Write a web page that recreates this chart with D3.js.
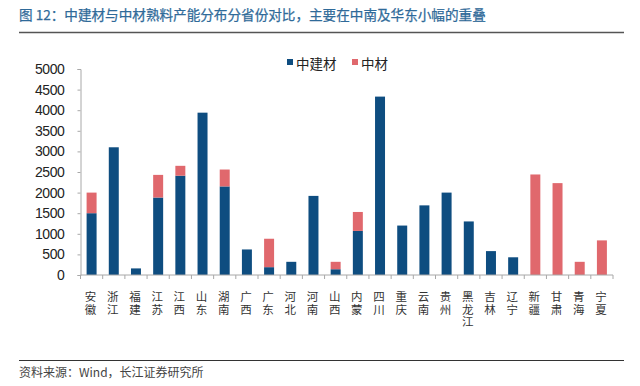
<!DOCTYPE html>
<html>
<head>
<meta charset="utf-8">
<script src="https://cdn.jsdelivr.net/npm/d3@7"></script>
<style>
  html, body { margin: 0; padding: 0; background: #fff; }
  svg { display: block; }
  .vlabel { writing-mode: vertical-rl; text-orientation: upright; }
</style>
</head>
<body>
<div id="chart"></div>
<script>
// Data
const provinces = ['安徽','浙江','福建','江苏','江西','山东','湖南','广西','广东','河北','河南','山西',
                   '内蒙','四川','重庆','云南','贵州','黑龙江','吉林','辽宁','新疆','甘肃','青海','宁夏'];
const cnbm  = [1500, 3100, 160, 1880, 2410, 3940, 2150, 620, 190, 320, 1920, 140,
               1070, 4330, 1200, 1690, 2000, 1300, 580, 430, 0, 0, 0, 0];
const sinoma = [500, 0, 0, 550, 240, 0, 410, 0, 690, 0, 0, 180,
                460, 0, 0, 0, 0, 0, 0, 0, 2440, 2230, 320, 840];
const seriesNames = ['中建材', '中材'];
const yTicks = [0, 500, 1000, 1500, 2000, 2500, 3000, 3500, 4000, 4500, 5000];

const width  = 640;
const height = 386;
const colors = ['#0e4d80', '#e0686d'];
const cjk = '"Noto Sans CJK SC", "Noto Sans", sans-serif';

const svg = d3.select('#chart')
  .append('svg')
    .attr('width', width)
    .attr('height', height);

svg.append('rect')
  .attr('width', width)
  .attr('height', height)
  .attr('fill', '#fff');

// Title + rule
svg.append('text')
  .attr('x', 19)
  .attr('y', 20)
  .attr('font-family', cjk)
  .attr('font-size', 13.6)
  .attr('fill', '#2f6a99')
  .attr('stroke', '#2f6a99')
  .attr('stroke-width', 0.25)
  .text('图 12：中建材与中材熟料产能分布分省份对比，主要在中南及华东小幅的重叠');

svg.append('line')
  .attr('x1', 19).attr('x2', 624)
  .attr('y1', 32.5).attr('y2', 32.5)
  .attr('stroke', '#555')
  .attr('stroke-width', 1.3);

// Scales
const x = d3.scaleBand()
  .domain(provinces)
  .range([80.5, 613])
  .paddingInner(0.55)
  .paddingOuter(0.275);

const y = d3.scaleLinear()
  .domain([0, 5000])
  .range([275, 69]);

// Stacked data
const rows = provinces.map((p, i) => ({ prov: p, '中建材': cnbm[i], '中材': sinoma[i] }));
const stacked = d3.stack().keys(seriesNames)(rows);

svg.append('g')
  .selectAll('g.series')
  .data(stacked)
  .join('g')
    .attr('class', 'series')
    .attr('fill', (d, i) => colors[i])
  .selectAll('rect')
  .data(d => d)
  .join('rect')
    .attr('x', d => x(d.data.prov))
    .attr('width', x.bandwidth())
    .attr('y', d => y(d[1]))
    .attr('height', d => y(d[0]) - y(d[1]));

// Y axis
const yAxis = svg.append('g')
  .attr('transform', 'translate(80.5,0)')
  .call(d3.axisLeft(y).tickValues(yTicks).tickSize(3).tickPadding(13).tickFormat(d3.format('d')));

yAxis.select('.domain').attr('stroke', '#a8a8a8');
yAxis.selectAll('.tick line').attr('stroke', '#a8a8a8');
yAxis.selectAll('.tick text')
  .attr('font-family', '"Liberation Sans", Arial, sans-serif')
  .attr('font-size', 14)
  .attr('letter-spacing', -0.4)
  .attr('fill', '#222');

// X axis: line with ticks at band edges
const step = x.step();
const x0 = x.range()[0];
const edges = d3.range(provinces.length + 1).map(i => x0 + i * step);

svg.append('line')
  .attr('x1', x.range()[0]).attr('x2', x.range()[1])
  .attr('y1', 275).attr('y2', 275)
  .attr('stroke', '#a8a8a8');

svg.append('g')
  .selectAll('line')
  .data(edges)
  .join('line')
    .attr('x1', d => d).attr('x2', d => d)
    .attr('y1', 275).attr('y2', 279)
    .attr('stroke', '#a8a8a8');

// Vertical category labels
svg.append('g')
  .selectAll('text')
  .data(provinces)
  .join('text')
    .attr('class', 'vlabel')
    .attr('x', d => x(d) + x.bandwidth() / 2 - 1)
    .attr('y', 291)
    .attr('font-family', cjk)
    .attr('font-size', 11.5)
    .attr('letter-spacing', 1)
    .attr('fill', '#333')
    .text(d => d);

// Legend
const legend = svg.append('g').attr('transform', 'translate(287,59)');
const legendX = [0, 65];
seriesNames.forEach((name, i) => {
  legend.append('rect')
    .attr('x', legendX[i]).attr('y', 0)
    .attr('width', 6).attr('height', 6)
    .attr('fill', colors[i]);
  legend.append('text')
    .attr('x', legendX[i] + 9)
    .attr('y', 9.5)
    .attr('font-family', cjk)
    .attr('font-size', 13.5)
    .attr('fill', '#222')
    .text(name);
});

// Footer
svg.append('line')
  .attr('x1', 19).attr('x2', 624)
  .attr('y1', 360.5).attr('y2', 360.5)
  .attr('stroke', '#333')
  .attr('stroke-width', 1.2);

svg.append('text')
  .attr('x', 19)
  .attr('y', 377)
  .attr('font-family', cjk)
  .attr('font-size', 12)
  .attr('fill', '#444')
  .text('资料来源：Wind，长江证券研究所');
</script>
</body>
</html>
